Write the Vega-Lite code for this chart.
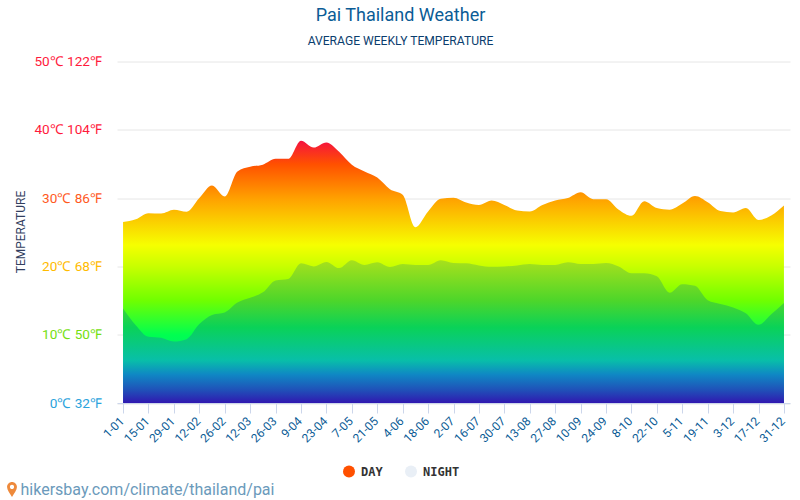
{"$schema":"https://vega.github.io/schema/vega-lite/v6.json","width":673,"height":341.5,"autosize":"none","padding":{"left":117,"top":61.5,"right":10,"bottom":97},"background":"#ffffff","config":{"view":{"stroke":null},"font":"Roboto"},
"title":{"text":"Pai Thailand Weather","subtitle":"AVERAGE WEEKLY TEMPERATURE","anchor":"middle","frame":"group","dx":-53,"offset":7,"font":"Roboto","fontSize":18,"fontWeight":"normal","color":"#0b5c96","subtitleFont":"Roboto","subtitleFontSize":12.1,"subtitleColor":"#0a3d6e","subtitlePadding":10},
"data":{"values":[
{"date":"2023-01-01","DAY":26.5,"NIGHT":13.85},{"date":"2023-01-08","DAY":26.9,"NIGHT":11.4},{"date":"2023-01-15","DAY":27.8,"NIGHT":9.7},{"date":"2023-01-22","DAY":27.75,"NIGHT":9.55},{"date":"2023-01-29","DAY":28.3,"NIGHT":9.0},{"date":"2023-02-05","DAY":28.0,"NIGHT":9.35},{"date":"2023-02-12","DAY":30.0,"NIGHT":11.55},{"date":"2023-02-19","DAY":31.85,"NIGHT":12.9},{"date":"2023-02-26","DAY":30.25,"NIGHT":13.25},{"date":"2023-03-05","DAY":33.9,"NIGHT":14.7},{"date":"2023-03-12","DAY":34.6,"NIGHT":15.4},{"date":"2023-03-19","DAY":34.9,"NIGHT":16.2},{"date":"2023-03-26","DAY":35.75,"NIGHT":17.95},{"date":"2023-04-02","DAY":35.75,"NIGHT":18.15},{"date":"2023-04-09","DAY":38.4,"NIGHT":20.45},{"date":"2023-04-16","DAY":37.4,"NIGHT":20.0},{"date":"2023-04-23","DAY":38.15,"NIGHT":20.65},{"date":"2023-04-30","DAY":36.8,"NIGHT":19.75},{"date":"2023-05-07","DAY":34.9,"NIGHT":20.9},{"date":"2023-05-14","DAY":33.9,"NIGHT":20.2},{"date":"2023-05-21","DAY":33.0,"NIGHT":20.6},{"date":"2023-05-28","DAY":31.3,"NIGHT":19.9},{"date":"2023-06-04","DAY":30.5,"NIGHT":20.35},{"date":"2023-06-11","DAY":25.75,"NIGHT":20.2},{"date":"2023-06-18","DAY":28.05,"NIGHT":20.2},{"date":"2023-06-25","DAY":29.9,"NIGHT":20.9},{"date":"2023-07-02","DAY":30.05,"NIGHT":20.5},{"date":"2023-07-09","DAY":29.35,"NIGHT":20.45},{"date":"2023-07-16","DAY":29.0,"NIGHT":20.15},{"date":"2023-07-23","DAY":29.65,"NIGHT":19.95},{"date":"2023-07-30","DAY":29.0,"NIGHT":20.0},{"date":"2023-08-06","DAY":28.2,"NIGHT":20.15},{"date":"2023-08-13","DAY":28.05,"NIGHT":20.35},{"date":"2023-08-20","DAY":29.0,"NIGHT":20.2},{"date":"2023-08-27","DAY":29.65,"NIGHT":20.2},{"date":"2023-09-03","DAY":30.0,"NIGHT":20.6},{"date":"2023-09-10","DAY":30.85,"NIGHT":20.35},{"date":"2023-09-17","DAY":29.85,"NIGHT":20.35},{"date":"2023-09-24","DAY":29.85,"NIGHT":20.5},{"date":"2023-10-01","DAY":28.3,"NIGHT":20.0},{"date":"2023-10-08","DAY":27.4,"NIGHT":19.0},{"date":"2023-10-15","DAY":29.55,"NIGHT":19.0},{"date":"2023-10-22","DAY":28.55,"NIGHT":18.55},{"date":"2023-10-29","DAY":28.3,"NIGHT":16.15},{"date":"2023-11-05","DAY":29.2,"NIGHT":17.4},{"date":"2023-11-12","DAY":30.3,"NIGHT":17.15},{"date":"2023-11-19","DAY":29.4,"NIGHT":15.05},{"date":"2023-11-26","DAY":28.1,"NIGHT":14.5},{"date":"2023-12-03","DAY":27.9,"NIGHT":14.0},{"date":"2023-12-10","DAY":28.55,"NIGHT":13.15},{"date":"2023-12-17","DAY":26.8,"NIGHT":11.45},{"date":"2023-12-24","DAY":27.45,"NIGHT":13.0},{"date":"2023-12-31","DAY":28.9,"NIGHT":14.65}
]},
"encoding":{"x":{"field":"date","type":"temporal","scale":{"domain":["2022-12-28T16:00:00","2024-01-03T08:00:00"]},"axis":{"title":"hikersbay.com/climate/thailand/pai","titleX":-97,"titleY":91,"titleAlign":"left","titleAnchor":"start","titleBaseline":"alphabetic","titleFont":"Roboto","titleFontSize":16,"titleFontWeight":"normal","titleColor":"#6b9abb","grid":false,"domainColor":"#ccd6eb","tickColor":"#ccd6eb","tickSize":10,"labelAngle":-45,"labelFont":"Roboto","labelFontSize":12,"labelColor":"#0b5c96","labelPadding":2,"labelOffset":-5,"labelOverlap":false,"labelFlush":false,"format":"%-d-%m",
"values":["2023-01-01","2023-01-15","2023-01-29","2023-02-12","2023-02-26","2023-03-12","2023-03-26","2023-04-09","2023-04-23","2023-05-07","2023-05-21","2023-06-04","2023-06-18","2023-07-02","2023-07-16","2023-07-30","2023-08-13","2023-08-27","2023-09-10","2023-09-24","2023-10-08","2023-10-22","2023-11-05","2023-11-19","2023-12-03","2023-12-17","2023-12-31"]}}},
"layer":[
{"mark":{"type":"area","interpolate":"monotone","fill":{"gradient":"linear","x1":0,"y1":0,"x2":0,"y2":1,"stops":[{"offset":0,"color":"#f5123f"},{"offset":0.089,"color":"#ff5000"},{"offset":0.219,"color":"#ffa000"},{"offset":0.398,"color":"#f6ff00"},{"offset":0.479,"color":"#c8ff00"},{"offset":0.609,"color":"#70ff00"},{"offset":0.74,"color":"#00ff50"},{"offset":1,"color":"#00c0c0"}]}},
"encoding":{"y":{"field":"DAY","type":"quantitative","scale":{"domain":[0,50]},"axis":{"title":"TEMPERATURE","titleX":-90,"titleY":170,"titleFont":"Roboto","titleFontSize":12,"titleFontWeight":"normal","titleColor":"#333f5f","values":[0,10,20,30,40,50],"grid":true,"gridColor":"#e6e6e6","domain":false,"ticks":false,"labelFont":"Roboto","labelFontSize":13.6,"labelPadding":15.5,"labelExpr":"datum.value+'℃ '+round(datum.value*1.8+32)+'℉'","labelColor":{"expr":"datum.value>=40?'#ff1a3c':datum.value==30?'#ff5a1e':datum.value==20?'#ffbb00':datum.value==10?'#74e010':'#2ba3dc'"}}}}},
{"mark":{"type":"area","interpolate":"monotone","fill":{"gradient":"linear","x1":0,"y1":0,"x2":0,"y2":1,"stops":[{"offset":0,"color":"#a8e01c"},{"offset":0.28,"color":"#4ed62a"},{"offset":0.47,"color":"#0ad258"},{"offset":0.7,"color":"#08bfa8"},{"offset":0.8,"color":"#0f88c4"},{"offset":0.91,"color":"#2050b8"},{"offset":1,"color":"#3018b0"}]}},
"encoding":{"y":{"field":"NIGHT","type":"quantitative"}}},
{"transform":[{"fold":["DAY","NIGHT"],"as":["series","temp"]}],"mark":{"type":"point","filled":true,"opacity":0},
"encoding":{"y":{"field":"temp","type":"quantitative"},"color":{"field":"series","type":"nominal","scale":{"domain":["DAY","NIGHT"],"range":["#ff5000","#e9eff6"]},"legend":{"title":null,"orient":"none","legendX":225,"legendY":403,"direction":"horizontal","symbolType":"circle","symbolSize":144,"symbolOpacity":1,"labelFont":"DejaVu Sans Mono","labelFontSize":12,"labelFontWeight":"bold","labelColor":"#333333","columnPadding":21,"labelOffset":5}}}},
{"mark":{"type":"point","filled":true,"opacity":0,"color":"#ee8a3c"},
"encoding":{"y":{"field":"DAY","type":"quantitative"},"shape":{"datum":"site","scale":{"domain":["site"],"range":["M0,1C-0.3,0.5 -0.66,0.05 -0.66,-0.34A0.66,0.66 0 1 1 0.66,-0.34C0.66,0.05 0.3,0.5 0,1ZM0,-0.62A0.28,0.28 0 1 0 0,-0.06A0.28,0.28 0 1 0 0,-0.62Z"]},"legend":{"title":null,"orient":"none","legendX":-112.5,"legendY":420.5,"symbolSize":225,"symbolOpacity":1,"symbolFillColor":"#ee8a3c","symbolStrokeWidth":0,"labelExpr":"''","labelFontSize":1}}}}
]}
